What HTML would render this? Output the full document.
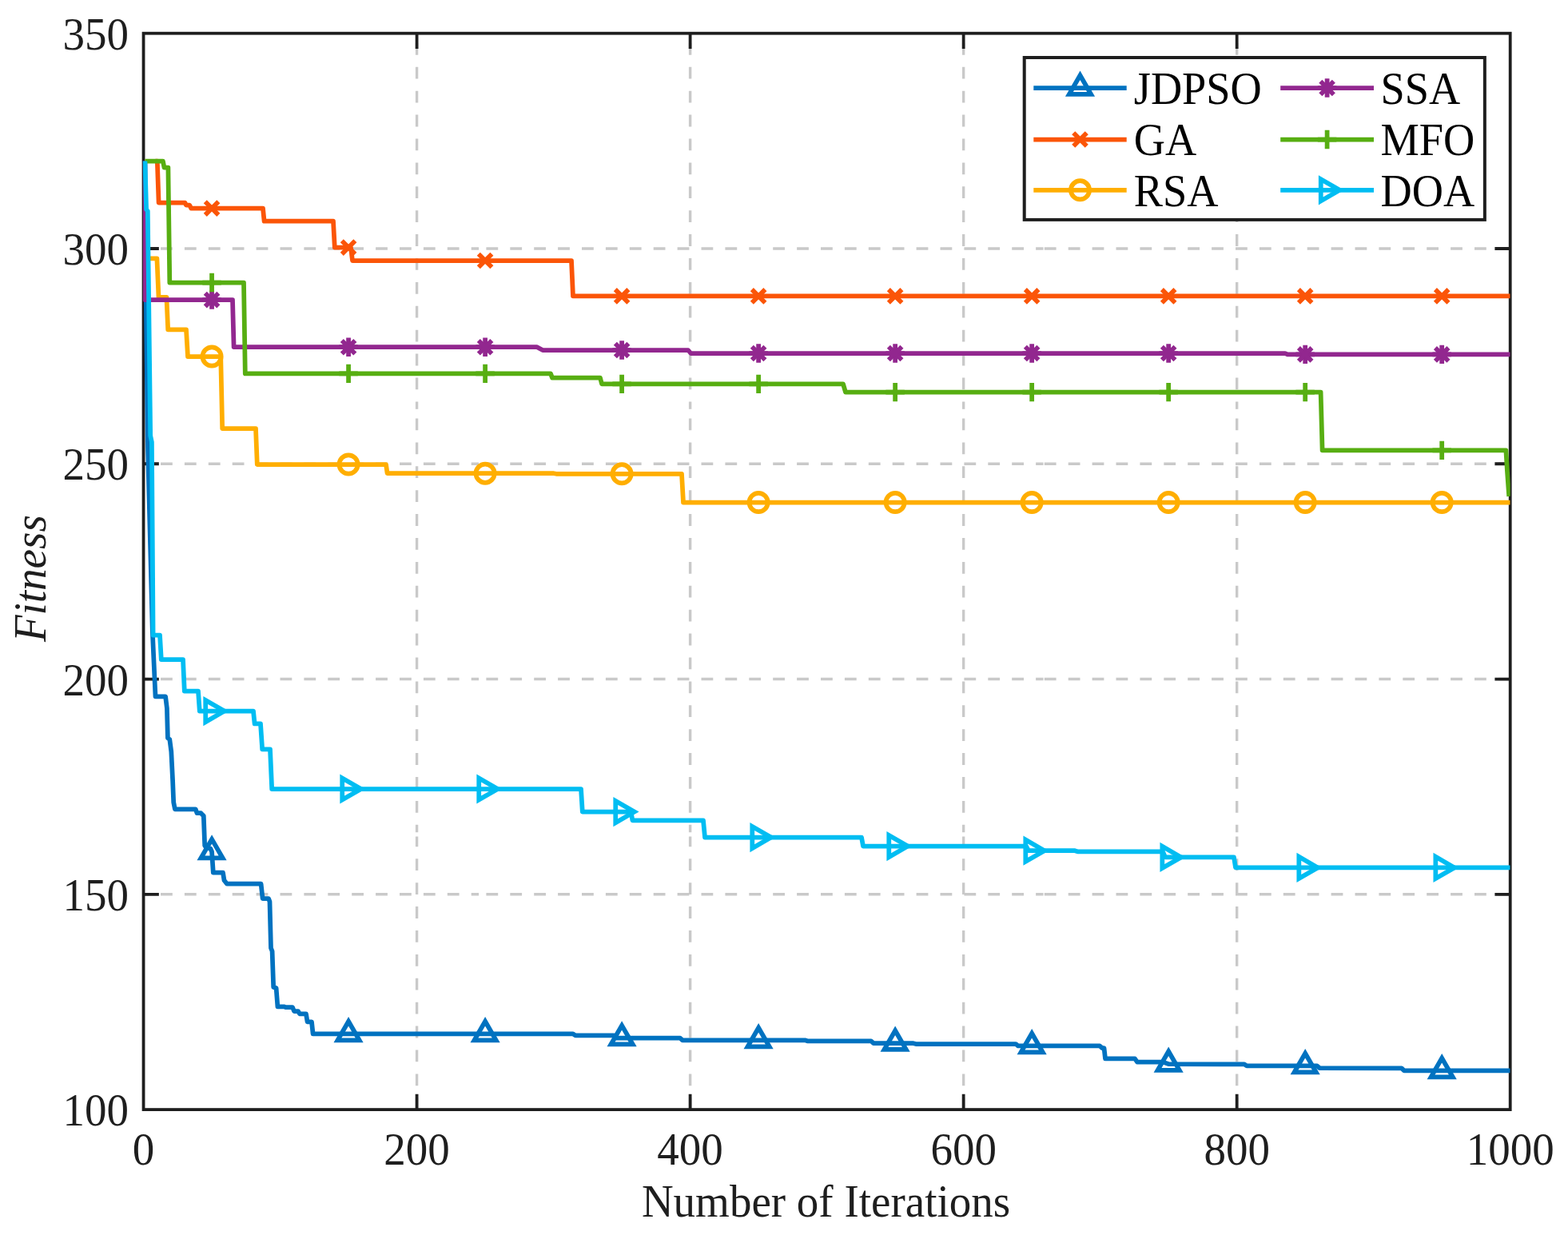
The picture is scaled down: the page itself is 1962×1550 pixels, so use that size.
<!DOCTYPE html>
<html lang="en"><head><meta charset="utf-8"><title>Fitness vs Number of Iterations</title>
<style>html,body{margin:0;padding:0;background:#fff}body{width:1962px;height:1550px;overflow:hidden}svg{display:block}text{font-family:"Liberation Serif","Times New Roman",serif;font-size:55px}</style>
</head><body>
<svg width="1962" height="1550" viewBox="0 0 1962 1550">
<rect x="0" y="0" width="1962" height="1550" fill="#fff"/>
<defs><clipPath id="c"><rect x="178.65" y="41.7" width="1711.05" height="1346.4"/></clipPath></defs>
<g stroke="#c9c9c9" stroke-width="3.4" stroke-dasharray="14.8 15.1" fill="none"><line x1="521.58" y1="1388.1" x2="521.58" y2="1046.6"/><line x1="521.58" y1="1041.2" x2="521.58" y2="517.2" stroke-dashoffset="5.4"/><line x1="521.58" y1="511.8" x2="521.58" y2="41.7" stroke-dashoffset="5.4"/><line x1="863.61" y1="1388.1" x2="863.61" y2="1046.6"/><line x1="863.61" y1="1041.2" x2="863.61" y2="517.2" stroke-dashoffset="5.4"/><line x1="863.61" y1="511.8" x2="863.61" y2="41.7" stroke-dashoffset="5.4"/><line x1="1205.64" y1="1388.1" x2="1205.64" y2="1046.6"/><line x1="1205.64" y1="1041.2" x2="1205.64" y2="517.2" stroke-dashoffset="5.4"/><line x1="1205.64" y1="511.8" x2="1205.64" y2="41.7" stroke-dashoffset="5.4"/><line x1="1547.67" y1="1388.1" x2="1547.67" y2="1046.6"/><line x1="1547.67" y1="1041.2" x2="1547.67" y2="517.2" stroke-dashoffset="5.4"/><line x1="1547.67" y1="511.8" x2="1547.67" y2="41.7" stroke-dashoffset="5.4"/><line x1="1889.7" y1="1118.82" x2="1306.8" y2="1118.82"/><line x1="1305.5" y1="1118.82" x2="604.5" y2="1118.82" stroke-dashoffset="5.4"/><line x1="599.1" y1="1118.82" x2="179.55" y2="1118.82" stroke-dashoffset="5.4"/><line x1="1889.7" y1="849.54" x2="1306.8" y2="849.54"/><line x1="1305.5" y1="849.54" x2="604.5" y2="849.54" stroke-dashoffset="5.4"/><line x1="599.1" y1="849.54" x2="179.55" y2="849.54" stroke-dashoffset="5.4"/><line x1="1889.7" y1="580.26" x2="1306.8" y2="580.26"/><line x1="1305.5" y1="580.26" x2="604.5" y2="580.26" stroke-dashoffset="5.4"/><line x1="599.1" y1="580.26" x2="179.55" y2="580.26" stroke-dashoffset="5.4"/><line x1="1889.7" y1="310.98" x2="1306.8" y2="310.98"/><line x1="1305.5" y1="310.98" x2="604.5" y2="310.98" stroke-dashoffset="5.4"/><line x1="599.1" y1="310.98" x2="179.55" y2="310.98" stroke-dashoffset="5.4"/></g>
<path d="M521.58 1388.1v-19.3M521.58 41.7v19.3M863.61 1388.1v-19.3M863.61 41.7v19.3M1205.64 1388.1v-19.3M1205.64 41.7v19.3M1547.67 1388.1v-19.3M1547.67 41.7v19.3M179.55 1118.82h19.3M1889.7 1118.82h-19.3M179.55 849.54h19.3M1889.7 849.54h-19.3M179.55 580.26h19.3M1889.7 580.26h-19.3M179.55 310.98h19.3M1889.7 310.98h-19.3" stroke="#1e1e1e" stroke-width="3.8" fill="none"/>
<rect x="179.55" y="41.7" width="1710.15" height="1346.4" fill="none" stroke="#1e1e1e" stroke-width="3.8"/>
<g clip-path="url(#c)">
<polyline points="181.3,201.5 183.1,400 185,560 186,600 190.8,790 194.5,871.3 207.1,871.3 208.9,886 209.9,923.2 212.3,925 214.3,940.4 216.1,976.5 217.2,1003.6 218.9,1012.3 244.7,1012.3 246.5,1017.2 251.4,1017.2 254.8,1020.8 256.2,1057.8 257.9,1060.5 263.3,1061.5 265.05,1065.5 266.8,1091.6 279,1091.6 280.5,1101.2 284,1105.7 326.6,1105.7 328.6,1124 336,1124 337.5,1128 339,1186 340.6,1190 342.2,1235 345.6,1236 347.4,1259.4 356,1259.4 357,1260 366,1260 368,1265 373,1265 375,1268.4 383,1268.4 384.6,1278.4 390,1278.4 391.6,1293.4 717,1293.4 720,1295.4 768,1295.4 770,1298.6 851,1298.6 854,1301.4 1008,1301.4 1011,1302.4 1090,1302.4 1093,1305 1142,1305 1146,1306 1271,1306 1274,1308.4 1376,1308.4 1379,1311 1381.5,1311 1383,1324.4 1420,1324.4 1423,1328.6 1455,1328.6 1462,1331 1557,1331.4 1560,1333.4 1648,1333.4 1651,1336 1753.8,1336.4 1757,1339.4 1889.7,1339.4" fill="none" stroke="#0072c0" stroke-width="5.75" stroke-linejoin="round" stroke-linecap="butt"/>
<polygon points="265.06,1049.91 278.66,1073.46 251.46,1073.46" fill="none" stroke="#0072c0" stroke-width="5.75" stroke-linejoin="miter" stroke-miterlimit="10"/><polygon points="436.07,1277.7 449.67,1301.25 422.47,1301.25" fill="none" stroke="#0072c0" stroke-width="5.75" stroke-linejoin="miter" stroke-miterlimit="10"/><polygon points="607.09,1277.7 620.69,1301.25 593.49,1301.25" fill="none" stroke="#0072c0" stroke-width="5.75" stroke-linejoin="miter" stroke-miterlimit="10"/><polygon points="778.1,1282.9 791.7,1306.45 764.5,1306.45" fill="none" stroke="#0072c0" stroke-width="5.75" stroke-linejoin="miter" stroke-miterlimit="10"/><polygon points="949.12,1285.7 962.72,1309.25 935.52,1309.25" fill="none" stroke="#0072c0" stroke-width="5.75" stroke-linejoin="miter" stroke-miterlimit="10"/><polygon points="1120.13,1289.3 1133.73,1312.85 1106.53,1312.85" fill="none" stroke="#0072c0" stroke-width="5.75" stroke-linejoin="miter" stroke-miterlimit="10"/><polygon points="1291.15,1292.7 1304.75,1316.25 1277.55,1316.25" fill="none" stroke="#0072c0" stroke-width="5.75" stroke-linejoin="miter" stroke-miterlimit="10"/><polygon points="1462.16,1315.3 1475.76,1338.85 1448.56,1338.85" fill="none" stroke="#0072c0" stroke-width="5.75" stroke-linejoin="miter" stroke-miterlimit="10"/><polygon points="1633.18,1317.7 1646.78,1341.25 1619.58,1341.25" fill="none" stroke="#0072c0" stroke-width="5.75" stroke-linejoin="miter" stroke-miterlimit="10"/><polygon points="1804.19,1323.7 1817.79,1347.25 1790.59,1347.25" fill="none" stroke="#0072c0" stroke-width="5.75" stroke-linejoin="miter" stroke-miterlimit="10"/>
<polyline points="194.5,201.6 196.8,201.6 198.6,253.5 231.3,253.5 233,256.5 237.1,256.5 239.2,260.6 329,260.6 330.6,276.6 417,276.6 418.8,309.6 439,309.6 441,326 715,326 717,370.4 1889.7,370.4" fill="none" stroke="#fb5508" stroke-width="5.75" stroke-linejoin="round" stroke-linecap="butt"/>
<path d="M256.78 252.33L273.33 268.87M256.78 268.87L273.33 252.33" fill="none" stroke="#fb5508" stroke-width="5.75"/><path d="M427.8 301.33L444.35 317.87M427.8 317.87L444.35 301.33" fill="none" stroke="#fb5508" stroke-width="5.75"/><path d="M598.81 317.73L615.36 334.27M598.81 334.27L615.36 317.73" fill="none" stroke="#fb5508" stroke-width="5.75"/><path d="M769.83 362.13L786.38 378.67M769.83 378.67L786.38 362.13" fill="none" stroke="#fb5508" stroke-width="5.75"/><path d="M940.84 362.13L957.39 378.67M940.84 378.67L957.39 362.13" fill="none" stroke="#fb5508" stroke-width="5.75"/><path d="M1111.86 362.13L1128.41 378.67M1111.86 378.67L1128.41 362.13" fill="none" stroke="#fb5508" stroke-width="5.75"/><path d="M1282.87 362.13L1299.42 378.67M1282.87 378.67L1299.42 362.13" fill="none" stroke="#fb5508" stroke-width="5.75"/><path d="M1453.89 362.13L1470.44 378.67M1453.89 378.67L1470.44 362.13" fill="none" stroke="#fb5508" stroke-width="5.75"/><path d="M1624.9 362.13L1641.45 378.67M1624.9 378.67L1641.45 362.13" fill="none" stroke="#fb5508" stroke-width="5.75"/><path d="M1795.92 362.13L1812.47 378.67M1795.92 378.67L1812.47 362.13" fill="none" stroke="#fb5508" stroke-width="5.75"/>
<polyline points="182.6,290 183.1,323.4 196.4,323.4 198.5,371.8 208.4,371.8 210.2,412.4 233,412.4 235,446 276.2,446 278.2,536 320,536 321.8,581 483,581 484.6,592.2 693,592.2 696,592.8 853,592.8 855,628.5 1889.7,628.5" fill="none" stroke="#ffae00" stroke-width="5.75" stroke-linejoin="round" stroke-linecap="butt"/>
<circle cx="265.06" cy="446" r="11.6" fill="none" stroke="#ffae00" stroke-width="5.75"/><circle cx="436.07" cy="581" r="11.6" fill="none" stroke="#ffae00" stroke-width="5.75"/><circle cx="607.09" cy="592.2" r="11.6" fill="none" stroke="#ffae00" stroke-width="5.75"/><circle cx="778.1" cy="592.8" r="11.6" fill="none" stroke="#ffae00" stroke-width="5.75"/><circle cx="949.12" cy="628.5" r="11.6" fill="none" stroke="#ffae00" stroke-width="5.75"/><circle cx="1120.13" cy="628.5" r="11.6" fill="none" stroke="#ffae00" stroke-width="5.75"/><circle cx="1291.15" cy="628.5" r="11.6" fill="none" stroke="#ffae00" stroke-width="5.75"/><circle cx="1462.16" cy="628.5" r="11.6" fill="none" stroke="#ffae00" stroke-width="5.75"/><circle cx="1633.18" cy="628.5" r="11.6" fill="none" stroke="#ffae00" stroke-width="5.75"/><circle cx="1804.19" cy="628.5" r="11.6" fill="none" stroke="#ffae00" stroke-width="5.75"/>
<polyline points="181.4,201.5 181.4,375.1 291,375.1 292.6,434.2 672,434.2 679,438 861,438 864.4,442 1608,442 1611,443.4 1889.7,443.4" fill="none" stroke="#92278f" stroke-width="5.75" stroke-linejoin="round" stroke-linecap="butt"/>
<path d="M253.36 375.1L276.76 375.1M265.06 363.4L265.06 386.8" fill="none" stroke="#92278f" stroke-width="5.75"/><path d="M256.78 366.83L273.33 383.37M256.78 383.37L273.33 366.83" fill="none" stroke="#92278f" stroke-width="5.75"/><path d="M424.37 434.2L447.77 434.2M436.07 422.5L436.07 445.9" fill="none" stroke="#92278f" stroke-width="5.75"/><path d="M427.8 425.93L444.35 442.47M427.8 442.47L444.35 425.93" fill="none" stroke="#92278f" stroke-width="5.75"/><path d="M595.39 434.2L618.79 434.2M607.09 422.5L607.09 445.9" fill="none" stroke="#92278f" stroke-width="5.75"/><path d="M598.81 425.93L615.36 442.47M598.81 442.47L615.36 425.93" fill="none" stroke="#92278f" stroke-width="5.75"/><path d="M766.4 438L789.8 438M778.1 426.3L778.1 449.7" fill="none" stroke="#92278f" stroke-width="5.75"/><path d="M769.83 429.73L786.38 446.27M769.83 446.27L786.38 429.73" fill="none" stroke="#92278f" stroke-width="5.75"/><path d="M937.42 442L960.82 442M949.12 430.3L949.12 453.7" fill="none" stroke="#92278f" stroke-width="5.75"/><path d="M940.84 433.73L957.39 450.27M940.84 450.27L957.39 433.73" fill="none" stroke="#92278f" stroke-width="5.75"/><path d="M1108.43 442L1131.83 442M1120.13 430.3L1120.13 453.7" fill="none" stroke="#92278f" stroke-width="5.75"/><path d="M1111.86 433.73L1128.41 450.27M1111.86 450.27L1128.41 433.73" fill="none" stroke="#92278f" stroke-width="5.75"/><path d="M1279.45 442L1302.85 442M1291.15 430.3L1291.15 453.7" fill="none" stroke="#92278f" stroke-width="5.75"/><path d="M1282.87 433.73L1299.42 450.27M1282.87 450.27L1299.42 433.73" fill="none" stroke="#92278f" stroke-width="5.75"/><path d="M1450.46 442L1473.86 442M1462.16 430.3L1462.16 453.7" fill="none" stroke="#92278f" stroke-width="5.75"/><path d="M1453.89 433.73L1470.44 450.27M1453.89 450.27L1470.44 433.73" fill="none" stroke="#92278f" stroke-width="5.75"/><path d="M1621.48 443.4L1644.88 443.4M1633.18 431.7L1633.18 455.1" fill="none" stroke="#92278f" stroke-width="5.75"/><path d="M1624.9 435.13L1641.45 451.67M1624.9 451.67L1641.45 435.13" fill="none" stroke="#92278f" stroke-width="5.75"/><path d="M1792.49 443.4L1815.89 443.4M1804.19 431.7L1804.19 455.1" fill="none" stroke="#92278f" stroke-width="5.75"/><path d="M1795.92 435.13L1812.47 451.67M1795.92 451.67L1812.47 435.13" fill="none" stroke="#92278f" stroke-width="5.75"/>
<polyline points="181.4,201.5 203.9,201.5 205.5,209.7 210.4,209.7 212.3,353.5 305,353.5 306.8,467.4 689,467.4 691,472.6 751,472.6 753,480.4 1055,480.4 1058,490.6 1652.6,490.6 1654.6,563.4 1884.4,563.4 1886,590 1888.2,621" fill="none" stroke="#57ae12" stroke-width="5.75" stroke-linejoin="round" stroke-linecap="butt"/>
<path d="M253.36 353.5L276.76 353.5M265.06 341.8L265.06 365.2" fill="none" stroke="#57ae12" stroke-width="5.75"/><path d="M424.37 467.4L447.77 467.4M436.07 455.7L436.07 479.1" fill="none" stroke="#57ae12" stroke-width="5.75"/><path d="M595.39 467.4L618.79 467.4M607.09 455.7L607.09 479.1" fill="none" stroke="#57ae12" stroke-width="5.75"/><path d="M766.4 480.4L789.8 480.4M778.1 468.7L778.1 492.1" fill="none" stroke="#57ae12" stroke-width="5.75"/><path d="M937.42 480.4L960.82 480.4M949.12 468.7L949.12 492.1" fill="none" stroke="#57ae12" stroke-width="5.75"/><path d="M1108.43 490.6L1131.83 490.6M1120.13 478.9L1120.13 502.3" fill="none" stroke="#57ae12" stroke-width="5.75"/><path d="M1279.45 490.6L1302.85 490.6M1291.15 478.9L1291.15 502.3" fill="none" stroke="#57ae12" stroke-width="5.75"/><path d="M1450.46 490.6L1473.86 490.6M1462.16 478.9L1462.16 502.3" fill="none" stroke="#57ae12" stroke-width="5.75"/><path d="M1621.48 490.6L1644.88 490.6M1633.18 478.9L1633.18 502.3" fill="none" stroke="#57ae12" stroke-width="5.75"/><path d="M1792.49 563.4L1815.89 563.4M1804.19 551.7L1804.19 575.1" fill="none" stroke="#57ae12" stroke-width="5.75"/>
<polyline points="181.4,201.5 183.1,262 184.8,264 188.2,545 189.9,553 191.6,794.5 200,794.5 201.8,825 229,825 230.8,864.6 248,864.6 249.8,889.6 317,889.6 318.6,905.4 326,905.4 328.2,937.4 338,937.4 340.2,987 727,987 728.8,1015.6 789.6,1015.6 791.4,1026.4 880,1026.4 882,1047.6 1078,1047.6 1080,1058.6 1284,1058.6 1287,1064.2 1345,1064.2 1349,1065.4 1455,1065.4 1458,1072.4 1544,1072.4 1546,1085.4 1889.7,1085.4" fill="none" stroke="#00bdf2" stroke-width="5.75" stroke-linejoin="round" stroke-linecap="butt"/>
<polygon points="280.76,889.6 257.21,903.2 257.21,876" fill="none" stroke="#00bdf2" stroke-width="5.75" stroke-linejoin="miter" stroke-miterlimit="10"/><polygon points="451.78,987 428.22,1000.6 428.22,973.4" fill="none" stroke="#00bdf2" stroke-width="5.75" stroke-linejoin="miter" stroke-miterlimit="10"/><polygon points="622.79,987 599.24,1000.6 599.24,973.4" fill="none" stroke="#00bdf2" stroke-width="5.75" stroke-linejoin="miter" stroke-miterlimit="10"/><polygon points="793.81,1015.6 770.25,1029.2 770.25,1002" fill="none" stroke="#00bdf2" stroke-width="5.75" stroke-linejoin="miter" stroke-miterlimit="10"/><polygon points="964.82,1047.6 941.27,1061.2 941.27,1034" fill="none" stroke="#00bdf2" stroke-width="5.75" stroke-linejoin="miter" stroke-miterlimit="10"/><polygon points="1135.84,1058.6 1112.28,1072.2 1112.28,1045" fill="none" stroke="#00bdf2" stroke-width="5.75" stroke-linejoin="miter" stroke-miterlimit="10"/><polygon points="1306.85,1064.2 1283.3,1077.8 1283.3,1050.6" fill="none" stroke="#00bdf2" stroke-width="5.75" stroke-linejoin="miter" stroke-miterlimit="10"/><polygon points="1477.87,1072.4 1454.31,1086 1454.31,1058.8" fill="none" stroke="#00bdf2" stroke-width="5.75" stroke-linejoin="miter" stroke-miterlimit="10"/><polygon points="1648.88,1085.4 1625.33,1099 1625.33,1071.8" fill="none" stroke="#00bdf2" stroke-width="5.75" stroke-linejoin="miter" stroke-miterlimit="10"/><polygon points="1819.9,1085.4 1796.34,1099 1796.34,1071.8" fill="none" stroke="#00bdf2" stroke-width="5.75" stroke-linejoin="miter" stroke-miterlimit="10"/>
</g>
<g fill="#1e1e1e">
<text transform="translate(179.55 1457.2) scale(1 1.03)" text-anchor="middle">0</text>
<text transform="translate(521.58 1457.2) scale(1 1.03)" text-anchor="middle">200</text>
<text transform="translate(863.61 1457.2) scale(1 1.03)" text-anchor="middle">400</text>
<text transform="translate(1205.64 1457.2) scale(1 1.03)" text-anchor="middle">600</text>
<text transform="translate(1547.67 1457.2) scale(1 1.03)" text-anchor="middle">800</text>
<text transform="translate(1889.7 1457.2) scale(1 1.03)" text-anchor="middle">1000</text>
<text transform="translate(161 1408.3) scale(1 1.03)" text-anchor="end">100</text>
<text transform="translate(161 1139.02) scale(1 1.03)" text-anchor="end">150</text>
<text transform="translate(161 869.74) scale(1 1.03)" text-anchor="end">200</text>
<text transform="translate(161 600.46) scale(1 1.03)" text-anchor="end">250</text>
<text transform="translate(161 331.18) scale(1 1.03)" text-anchor="end">300</text>
<text transform="translate(161 61.9) scale(1 1.03)" text-anchor="end">350</text>
<text transform="translate(1033.5 1521.9) scale(1 1.03)" text-anchor="middle">Number of Iterations</text>
<text transform="translate(57.4 723.6) rotate(-90) scale(1 1.03)" text-anchor="middle" font-style="italic">Fitness</text>
</g>
<rect x="1281.7" y="72" width="576.15" height="202.9" fill="#fff" stroke="#1e1e1e" stroke-width="4"/>
<line x1="1293.3" y1="110" x2="1409.7" y2="110" stroke="#0072c0" stroke-width="5.75"/>
<polygon points="1351.5,94.3 1365.1,117.85 1337.9,117.85" fill="none" stroke="#0072c0" stroke-width="5.75" stroke-linejoin="miter" stroke-miterlimit="10"/>
<text transform="translate(1418.8 129.7) scale(1 1.04)" fill="#000" style="font-size:54.3px">JDPSO</text>
<line x1="1293.3" y1="174.5" x2="1409.7" y2="174.5" stroke="#fb5508" stroke-width="5.75"/>
<path d="M1343.23 166.23L1359.77 182.77M1343.23 182.77L1359.77 166.23" fill="none" stroke="#fb5508" stroke-width="5.75"/>
<text transform="translate(1418.8 194.2) scale(1 1.04)" fill="#000" style="font-size:54.3px">GA</text>
<line x1="1293.3" y1="237.8" x2="1409.7" y2="237.8" stroke="#ffae00" stroke-width="5.75"/>
<circle cx="1351.5" cy="237.8" r="11.6" fill="none" stroke="#ffae00" stroke-width="5.75"/>
<text transform="translate(1418.8 257.5) scale(1 1.04)" fill="#000" style="font-size:54.3px">RSA</text>
<line x1="1602.2" y1="110" x2="1719" y2="110" stroke="#92278f" stroke-width="5.75"/>
<path d="M1648.9 110L1672.3 110M1660.6 98.3L1660.6 121.7" fill="none" stroke="#92278f" stroke-width="5.75"/><path d="M1652.33 101.73L1668.87 118.27M1652.33 118.27L1668.87 101.73" fill="none" stroke="#92278f" stroke-width="5.75"/>
<text transform="translate(1727.6 129.7) scale(1 1.04)" fill="#000" style="font-size:54.3px">SSA</text>
<line x1="1602.2" y1="174.5" x2="1719" y2="174.5" stroke="#57ae12" stroke-width="5.75"/>
<path d="M1648.9 174.5L1672.3 174.5M1660.6 162.8L1660.6 186.2" fill="none" stroke="#57ae12" stroke-width="5.75"/>
<text transform="translate(1727.6 194.2) scale(1 1.04)" fill="#000" style="font-size:54.3px">MFO</text>
<line x1="1602.2" y1="237.8" x2="1719" y2="237.8" stroke="#00bdf2" stroke-width="5.75"/>
<polygon points="1676.3,237.8 1652.75,251.4 1652.75,224.2" fill="none" stroke="#00bdf2" stroke-width="5.75" stroke-linejoin="miter" stroke-miterlimit="10"/>
<text transform="translate(1727.6 257.5) scale(1 1.04)" fill="#000" style="font-size:54.3px">DOA</text>
</svg></body></html>
